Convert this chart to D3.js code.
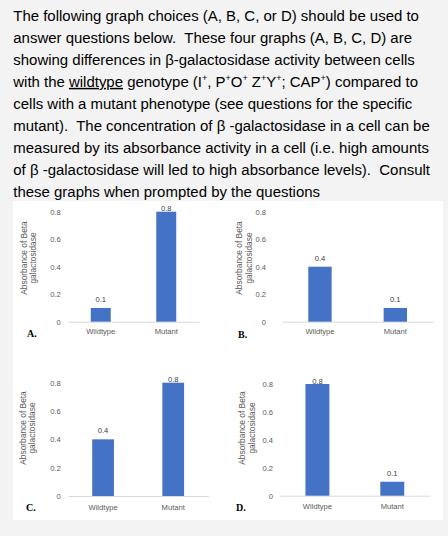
<!DOCTYPE html>
<html><head><meta charset="utf-8">
<script src="https://cdn.jsdelivr.net/npm/d3@7"></script>
<style>
html,body{margin:0;padding:0;background:#f3f3f3;}
svg{display:block;}
text{white-space:pre;}
</style></head>
<body>
<svg id="c" width="448" height="536"></svg>
<script>
// ---- data ----
const panelLabels = ["A.", "B.", "C.", "D."];
const categories = ["Wildtype", "Mutant"];
const valuesA = [0.1, 0.8];
const valuesB = [0.4, 0.1];
const valuesC = [0.4, 0.8];
const valuesD = [0.8, 0.1];
const yTicks = [0, 0.2, 0.4, 0.6, 0.8];
const yTitleLines = ["Absorbance of Beta", "galactosidase"];
const paragraphLines = [
  "The following graph choices (A, B, C, or D) should be used to",
  "answer questions below.  These four graphs (A, B, C, D) are",
  "showing differences in β-galactosidase activity between cells",
  null, // special line with superscripts
  "cells with a mutant phenotype (see questions for the specific",
  "mutant).  The concentration of β -galactosidase in a cell can be",
  "measured by its absorbance activity in a cell (i.e. high amounts",
  "of β -galactosidase will led to high absorbance levels).  Consult",
  "these graphs when prompted by the questions"
];
const line4Parts = [
  {t:"with the "}, {t:"wildtype", u:true}, {t:" genotype (I"}, {t:"+", s:true},
  {t:", P"}, {t:"+", s:true}, {t:"O"}, {t:"+", s:true}, {t:" Z"}, {t:"+", s:true},
  {t:"Y"}, {t:"+", s:true}, {t:"; CAP"}, {t:"+", s:true}, {t:") compared to"}
];

const svg = d3.select("#c");
// white panel behind charts
svg.append("rect").attr("x",13).attr("y",201).attr("width",430).attr("height",319).attr("fill","#ffffff");

// ---- paragraph ----
const font = "'Liberation Sans', Arial, Helvetica, sans-serif";
const para = svg.append("g").attr("font-family", font).attr("fill","#000");
// fit font size so first line spans the measured width
const probe = para.append("text").attr("font-size",14).text(paragraphLines[0]);
const fs = 14 * 406 / probe.node().getComputedTextLength();
probe.remove();
paragraphLines.forEach((ln,i)=>{
  const t = para.append("text").attr("x",13.3).attr("y",20.7 + 22.05*i).attr("font-size",fs);
  if (ln !== null) { t.text(ln); return; }
  let prevSup = false;
  line4Parts.forEach(p=>{
    const sp = t.append("tspan").text(p.t);
    if (p.s) sp.attr("font-size", fs*0.6).attr("dy", -fs*0.38);
    else if (prevSup) sp.attr("dy", fs*0.38);
    if (p.u) sp.attr("text-decoration","underline");
    prevSup = !!p.s;
  });
});

// ---- charts ----
const layouts = [
  {vals:valuesA, x0:68,    x1:199,   y0:321.7, y8:211.7, tickR:60.7, tx:[24,33.3],   tcy:258, lab:[27,333],   catY:331.7, frac:0.305},
  {vals:valuesB, x0:282.3, x1:433,   y0:321.7, y8:211.7, tickR:266,  tx:[239,248.5], tcy:258, lab:[238,334],  catY:331.7, frac:0.31},
  {vals:valuesC, x0:68,    x1:208.3, y0:496,   y8:382.7, tickR:60.7, tx:[22.7,32.3], tcy:428, lab:[26,507],   catY:506.7, frac:0.31},
  {vals:valuesD, x0:280,   x1:429.7, y0:495.7, y8:384,   tickR:273,  tx:[242,251.7], tcy:428, lab:[236,507],  catY:506.7, frac:0.32}
];
const chartFont = "'Liberation Sans', Arial, sans-serif";
layouts.forEach((L,pi)=>{
  const g = svg.append("g");
  const y = d3.scaleLinear().domain([0,0.8]).range([L.y0, L.y8]);
  const innerPad = 1 - L.frac;
  const x = d3.scaleBand().domain(categories).range([L.x0, L.x1])
    .paddingInner(innerPad).paddingOuter(innerPad/2);

  // y axis tick labels
  const ya = g.append("g").attr("transform",`translate(${L.tickR},0)`)
    .call(d3.axisLeft(y).tickValues(yTicks).tickSize(0).tickPadding(0)
      .tickFormat(d=> d===0 ? "0" : d3.format(".1f")(d)));
  ya.select(".domain").remove();
  ya.selectAll("text").attr("font-family",chartFont).attr("font-size",7.6).attr("fill","#595959");

  // x axis baseline + category labels
  const xa = g.append("g").attr("transform",`translate(0,${L.y0})`)
    .call(d3.axisBottom(x).tickSize(0).tickSizeOuter(0).tickPadding(0));
  xa.select(".domain").attr("stroke","#d9d9d9").attr("stroke-width",1);
  xa.selectAll("text").attr("font-family",chartFont).attr("font-size",7.6).attr("fill","#595959")
    .attr("dy",null).attr("y", L.catY - L.y0 + 2.8);

  // bars
  g.selectAll("rect.bar").data(L.vals).join("rect").attr("class","bar")
    .attr("x",(d,i)=>x(categories[i])).attr("width",x.bandwidth())
    .attr("y",d=>y(d)).attr("height",d=>L.y0 - y(d)).attr("fill","#4472C4");

  // value labels
  g.selectAll("text.val").data(L.vals).join("text").attr("class","val")
    .attr("x",(d,i)=>x(categories[i]) + x.bandwidth()/2)
    .attr("y",d=>Math.max(y(d) - 6, L.y8 - 0.5))
    .attr("text-anchor","middle").attr("font-family",chartFont).attr("font-size",7.6)
    .attr("fill","#404040").text(d=>d3.format(".1f")(d));

  // y title (two rotated lines)
  yTitleLines.forEach((ln,k)=>{
    g.append("text").attr("transform",`translate(${L.tx[k]+3},${L.tcy}) rotate(-90)`)
      .attr("text-anchor","middle").attr("font-family",chartFont).attr("font-size",8.4)
      .attr("fill","#595959").text(ln);
  });

  // panel letter
  g.append("text").attr("x",L.lab[0]).attr("y",L.lab[1]+3.5)
    .attr("font-family","'Liberation Serif', 'Times New Roman', serif").attr("font-weight","bold")
    .attr("font-size",10).attr("fill","#000").text(panelLabels[pi]);
});
</script>
</body></html>
